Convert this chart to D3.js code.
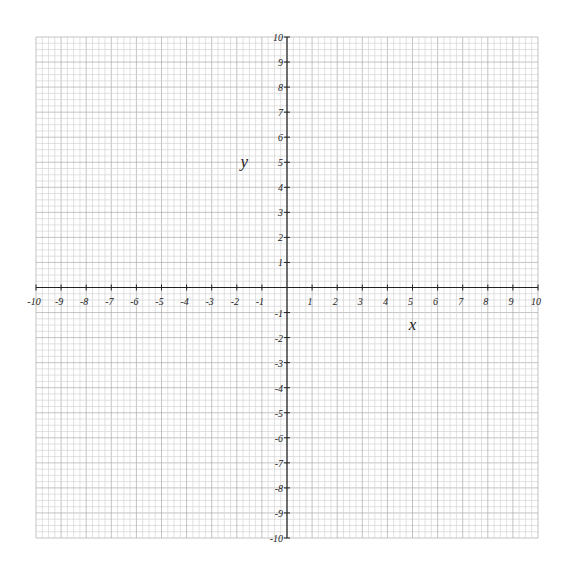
<!DOCTYPE html><html><head><script src="https://cdn.jsdelivr.net/npm/d3@7"></script>
<style>body{margin:0;background:#fff}</style></head><body><svg width="576" height="576"></svg>
<script>
const domainMin = -10, domainMax = 10;
const tickValues = [-10,-9,-8,-7,-6,-5,-4,-3,-2,-1,1,2,3,4,5,6,7,8,9,10];
const minorStep = 0.25;
const axisLabels = ["x","y"];
const svg = d3.select("svg");
const x = d3.scaleLinear().domain([domainMin,domainMax]).range([36,538]);
const y = d3.scaleLinear().domain([domainMin,domainMax]).range([538,37]);
const minor = d3.range(domainMin, domainMax+0.001, minorStep);
const g = svg.append("g");
minor.forEach(v=>{
  const major = Math.abs(v-Math.round(v))<1e-6;
  const c = major ? "#aaa" : "#d4d4d4";
  g.append("line").attr("x1",x(v)).attr("x2",x(v)).attr("y1",y(domainMin)).attr("y2",y(domainMax)).attr("stroke",c).attr("stroke-width",0.7);
  g.append("line").attr("y1",y(v)).attr("y2",y(v)).attr("x1",x(domainMin)).attr("x2",x(domainMax)).attr("stroke",c).attr("stroke-width",0.7);
});
const font = "'Liberation Serif', serif";
svg.append("line").attr("x1",x(domainMin)).attr("x2",x(domainMax)).attr("y1",y(0)).attr("y2",y(0)).attr("stroke","#222").attr("stroke-width",1.2);
svg.append("line").attr("y1",y(domainMin)).attr("y2",y(domainMax)).attr("x1",x(0)).attr("x2",x(0)).attr("stroke","#222").attr("stroke-width",1.2);
tickValues.forEach(v=>{
  svg.append("line").attr("x1",x(v)).attr("x2",x(v)).attr("y1",y(0)-3).attr("y2",y(0)+3).attr("stroke","#222");
  svg.append("line").attr("y1",y(v)).attr("y2",y(v)).attr("x1",x(0)-3).attr("x2",x(0)+3).attr("stroke","#222");
  svg.append("text").attr("x",x(v)-2).attr("y",y(0)+17).attr("text-anchor","middle").attr("font-family",font).attr("font-style","italic").attr("font-size",10).attr("fill","#222").text(v);
  svg.append("text").attr("x",x(0)-4).attr("y",y(v)+4).attr("text-anchor","end").attr("font-family",font).attr("font-style","italic").attr("font-size",10).attr("fill","#222").text(v);
});
svg.append("text").attr("x",x(5)).attr("y",y(-1.7)).attr("text-anchor","middle").attr("font-family",font).attr("font-style","italic").attr("font-size",17).attr("fill","#222").text(axisLabels[0]);
svg.append("text").attr("x",x(-1.7)).attr("y",y(4.8)).attr("text-anchor","middle").attr("font-family",font).attr("font-style","italic").attr("font-size",17).attr("fill","#222").text(axisLabels[1]);
</script></body></html>
